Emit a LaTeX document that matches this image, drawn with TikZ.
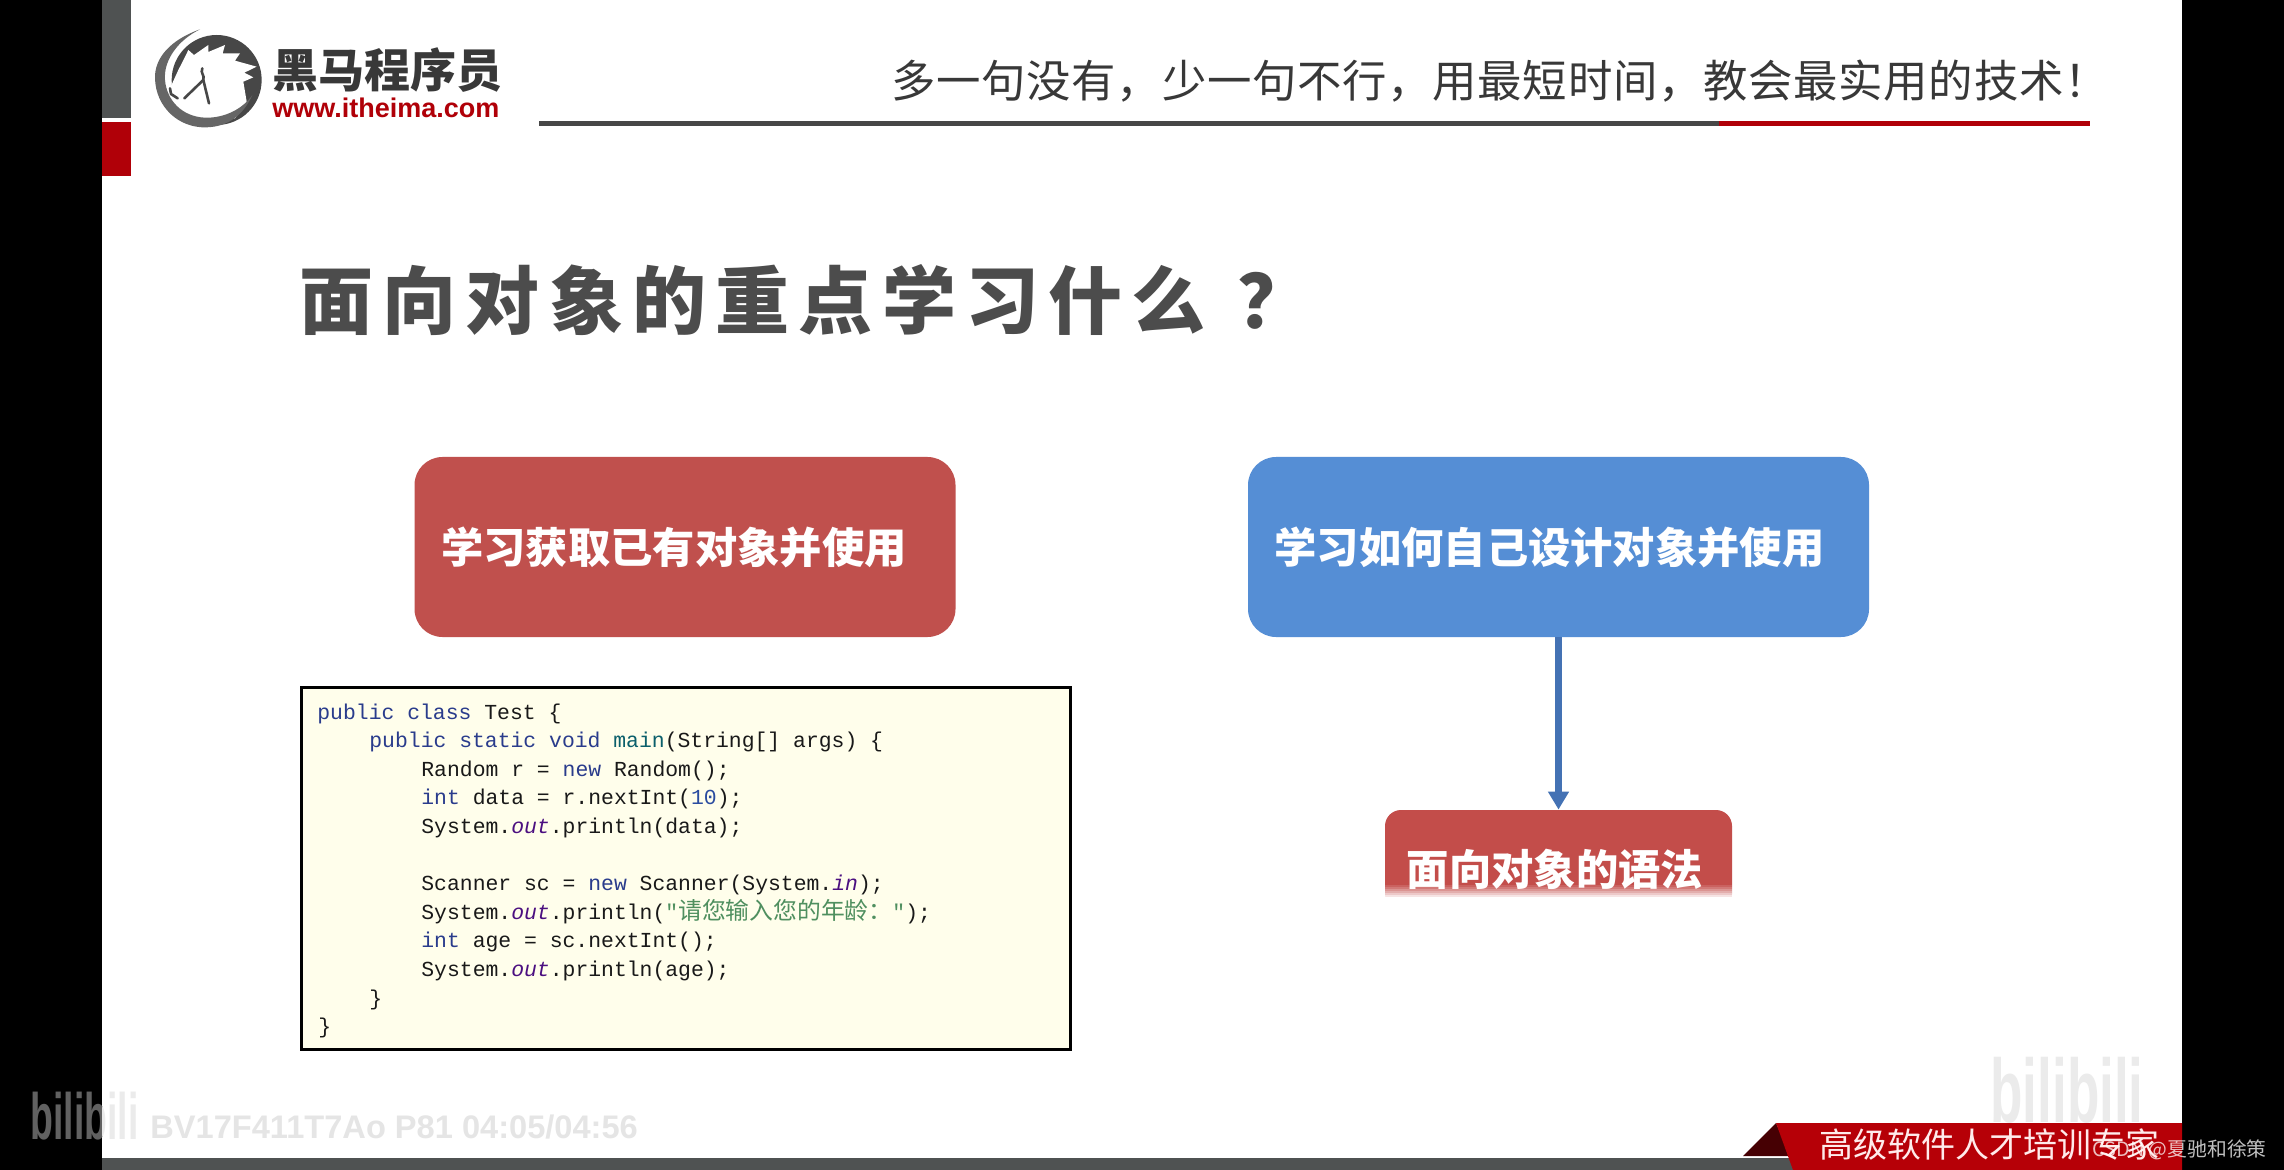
\documentclass[tikz,border=0pt]{standalone}
\usepackage{fontspec}
\usetikzlibrary{arrows.meta}
\setmainfont{Liberation Sans}
\setmonofont{Liberation Mono}
\newfontfamily\cjk{Noto Sans CJK SC}
\definecolor{kwc}{HTML}{2A3C8C}
\definecolor{mainc}{HTML}{0B5F6B}
\definecolor{outc}{HTML}{4B0F80}
\definecolor{strc}{HTML}{4F8F5F}
\definecolor{numc}{HTML}{2A4CA0}
\definecolor{redbox}{HTML}{C0504D}
\definecolor{bluebox}{HTML}{558ED5}
\definecolor{arrowc}{HTML}{4472B4}
\definecolor{barc}{HTML}{4F5252}
\definecolor{brand}{HTML}{B00008}
\newcommand{\kwd}[1]{\textcolor{kwc}{#1}}
\newcommand{\outw}{\textcolor{outc}{\textit{out}}}
\tikzset{
  x=0.5pt,y=-0.5pt,
  flow/.style={rounded corners=14pt,text=white,font=\cjk\bfseries\fontsize{21.15}{25}\selectfont,inner sep=0pt},
  codeline/.style={anchor=base west,inner sep=0pt,font=\ttfamily\fontsize{10.7}{13}\selectfont,text=black!90},
  wm/.style={inner sep=0pt,font=\bfseries},
}
\begin{document}
\begin{tikzpicture}
\useasboundingbox (0,0) rectangle (2284,1170);
\fill[black] (0,0) rectangle (2284,1170);
\fill[white] (102,0) rectangle (2182,1170);
% side bars
\fill[barc] (102,0) rectangle (131,118);
\fill[brand] (102,122) rectangle (131,176);
% logo
\begin{scope}[shift={(145,20)},x=0.16667pt,y=-0.16667pt]
\fill[black!72] (215,180) circle [radius=135];
\fill[white] (75,205) -- (100,150) -- (118,115) -- (130,90) -- (147,105) -- (190,75) -- (190,96) -- (240,75) -- (233,100) -- (285,100) -- (270,122) -- (335,140) -- (298,158) -- (325,172) -- (295,185) -- (300,215) -- (305,245) -- (270,295) -- (180,312) -- (90,285) -- (55,220) -- cycle;
\fill[black!60] (165,28) .. controls (75,60) and (28,115) .. (30,175) .. controls (32,260) and (100,325) .. (185,322) .. controls (250,320) and (295,285) .. (322,225) .. controls (295,265) and (240,295) .. (180,293) .. controls (110,290) and (65,240) .. (60,180) .. controls (55,120) and (100,60) .. (165,28) -- cycle;
\draw[black!72,line width=1.3pt,line join=round,line cap=round] (172,145) .. controls (165,160) and (180,165) .. (175,180) -- (118,235);
\draw[black!72,line width=1.3pt,line join=round,line cap=round] (175,180) -- (192,250);
\draw[black!72,line width=1.3pt,line join=round,line cap=round] (75,205) -- (78,222) -- (98,235);
\end{scope}
\node[name=brandcn,anchor=west,inner sep=0pt,text=black!78,font=\cjk\bfseries\fontsize{23}{26}\selectfont] at (272,70) {黑马程序员};
\node[name=brandurl,anchor=west,inner sep=0pt,text=brand,font=\bfseries\fontsize{13.5}{16}\selectfont] at (272,108) {www.itheima.com};
% slogan
\node[name=slogan,anchor=west,inner sep=0pt,text=black!78,font=\cjk\fontsize{22.2}{26}\selectfont\addfontfeature{LetterSpace=1.6}] at (891,81) {多一句没有，少一句不行，用最短时间，教会最实用的技术！};
\fill[black!72] (539,121.5) rectangle (1719,126.5);
\fill[brand] (1719,121.5) rectangle (2090,126.5);
% title
\node[name=title,anchor=west,inner sep=0pt,text=black!70,font=\cjk\bfseries\fontsize{37}{46}\selectfont\addfontfeature{LetterSpace=12.5}] at (299,300) {面向对象的重点学习什么\hspace{16pt}？};
% boxes
\node[flow,name=learnuse,fill=redbox,minimum width=270.5pt,minimum height=90pt] at (685,547) {\hspace{-11pt}学习获取已有对象并使用};
\node[flow,name=learndesign,fill=bluebox,minimum width=310.5pt,minimum height=90pt] at (1558.5,547) {\hspace{-9pt}学习如何自己设计对象并使用};
\node[flow,name=syntaxbox,fill=redbox!96!red,rounded corners=8pt,minimum width=173.5pt,minimum height=50pt] at (1558.5,860) {};
\node[flow,name=syntaxtext,fill=none] at (1555,869) {面向对象的语法};
\foreach \yy/\op in {885/.12,887/.25,889/.4,891/.55,893/.7,895/.85}
  \fill[white,opacity=\op] (1375,\yy) rectangle (1745,\yy+2);
\fill[white] (1375,897) rectangle (1745,925);
\draw[arrowc,line width=3.2pt,-{Triangle[length=9pt,width=10pt]}] (learndesign.south) -- (syntaxbox.north);
% code
\node[name=codebox,draw=black,line width=1.5pt,fill=yellow!8!white,minimum width=384.5pt,minimum height=181.25pt,inner sep=0pt] at (685.5,868.5) {};
\node[codeline,name=cl1] at (317,719) {\kwd{public class} Test \{};
\node[codeline,name=cl2] at (369,747.5) {\kwd{public static void} \textcolor{mainc}{main}(String[] args) \{};
\node[codeline,name=cl3] at (421,776) {Random r = \kwd{new} Random();};
\node[codeline,name=cl4] at (421,804.5) {\kwd{int} data = r.nextInt(\textcolor{numc}{10});};
\node[codeline,name=cl5] at (421,833) {System.\outw.println(data);};
\node[codeline,name=cl6] at (421,890) {Scanner sc = \kwd{new} Scanner(System.\textcolor{outc}{\textit{in}});};
\node[codeline,name=cl7] at (421,919) {System.\outw.println(\textcolor{strc}{"{\cjk\fontsize{11.9}{13}\selectfont 请您输入您的年龄：}"});};
\node[codeline,name=cl8] at (421,947.5) {\kwd{int} age = sc.nextInt();};
\node[codeline,name=cl9] at (421,976) {System.\outw.println(age);};
\node[codeline,name=cl10] at (369,1005) {\}};
\node[codeline,name=cl11] at (318,1033) {\}};
% watermark right
\node[wm,name=wmright,text=black!8,font=\bfseries\fontsize{26.5}{30}\selectfont,yscale=1.7,transform shape,anchor=base west] at (1990,1122) {bilibili};
% bottom bar
\fill[barc] (102,1158) rectangle (2182,1170);
\fill[white] (1735,1156) rectangle (1800,1158);
\fill[black!60!brand] (1743,1156) -- (1776,1123) -- (1790,1156) -- cycle;
\fill[brand!92!red] (1776,1123) -- (2182,1123) -- (2182,1170) -- (1793,1170) -- cycle;
\node[name=slogan2,anchor=west,inner sep=0pt,text=white!92!red,font=\cjk\fontsize{17}{20}\selectfont] at (1819,1144) {高级软件人才培训专家};
\node[name=csdn,anchor=east,inner sep=0pt,text=white,opacity=.75,font=\cjk\fontsize{9.9}{12}\selectfont] at (2267,1150) {CSDN @夏驰和徐策};
% watermark left
\begin{scope}
\clip (0,1060) rectangle (102,1160);
\node[wm,name=wmleftdark,text=black!62,font=\bfseries\fontsize{18.7}{22}\selectfont,yscale=1.75,transform shape,anchor=base west] at (30,1139) {bilibili};
\end{scope}
\begin{scope}
\clip (102,1060) rectangle (300,1150);
\node[wm,name=wmleftlight,text=black!8,font=\bfseries\fontsize{18.7}{22}\selectfont,yscale=1.75,transform shape,anchor=base west] at (30,1139) {bilibili};
\end{scope}
\node[wm,name=bvtext,anchor=west,text=black!10,font=\bfseries\fontsize{16.3}{20}\selectfont] at (150,1127) {BV17F411T7Ao P81 04:05/04:56};
\end{tikzpicture}
\end{document}
